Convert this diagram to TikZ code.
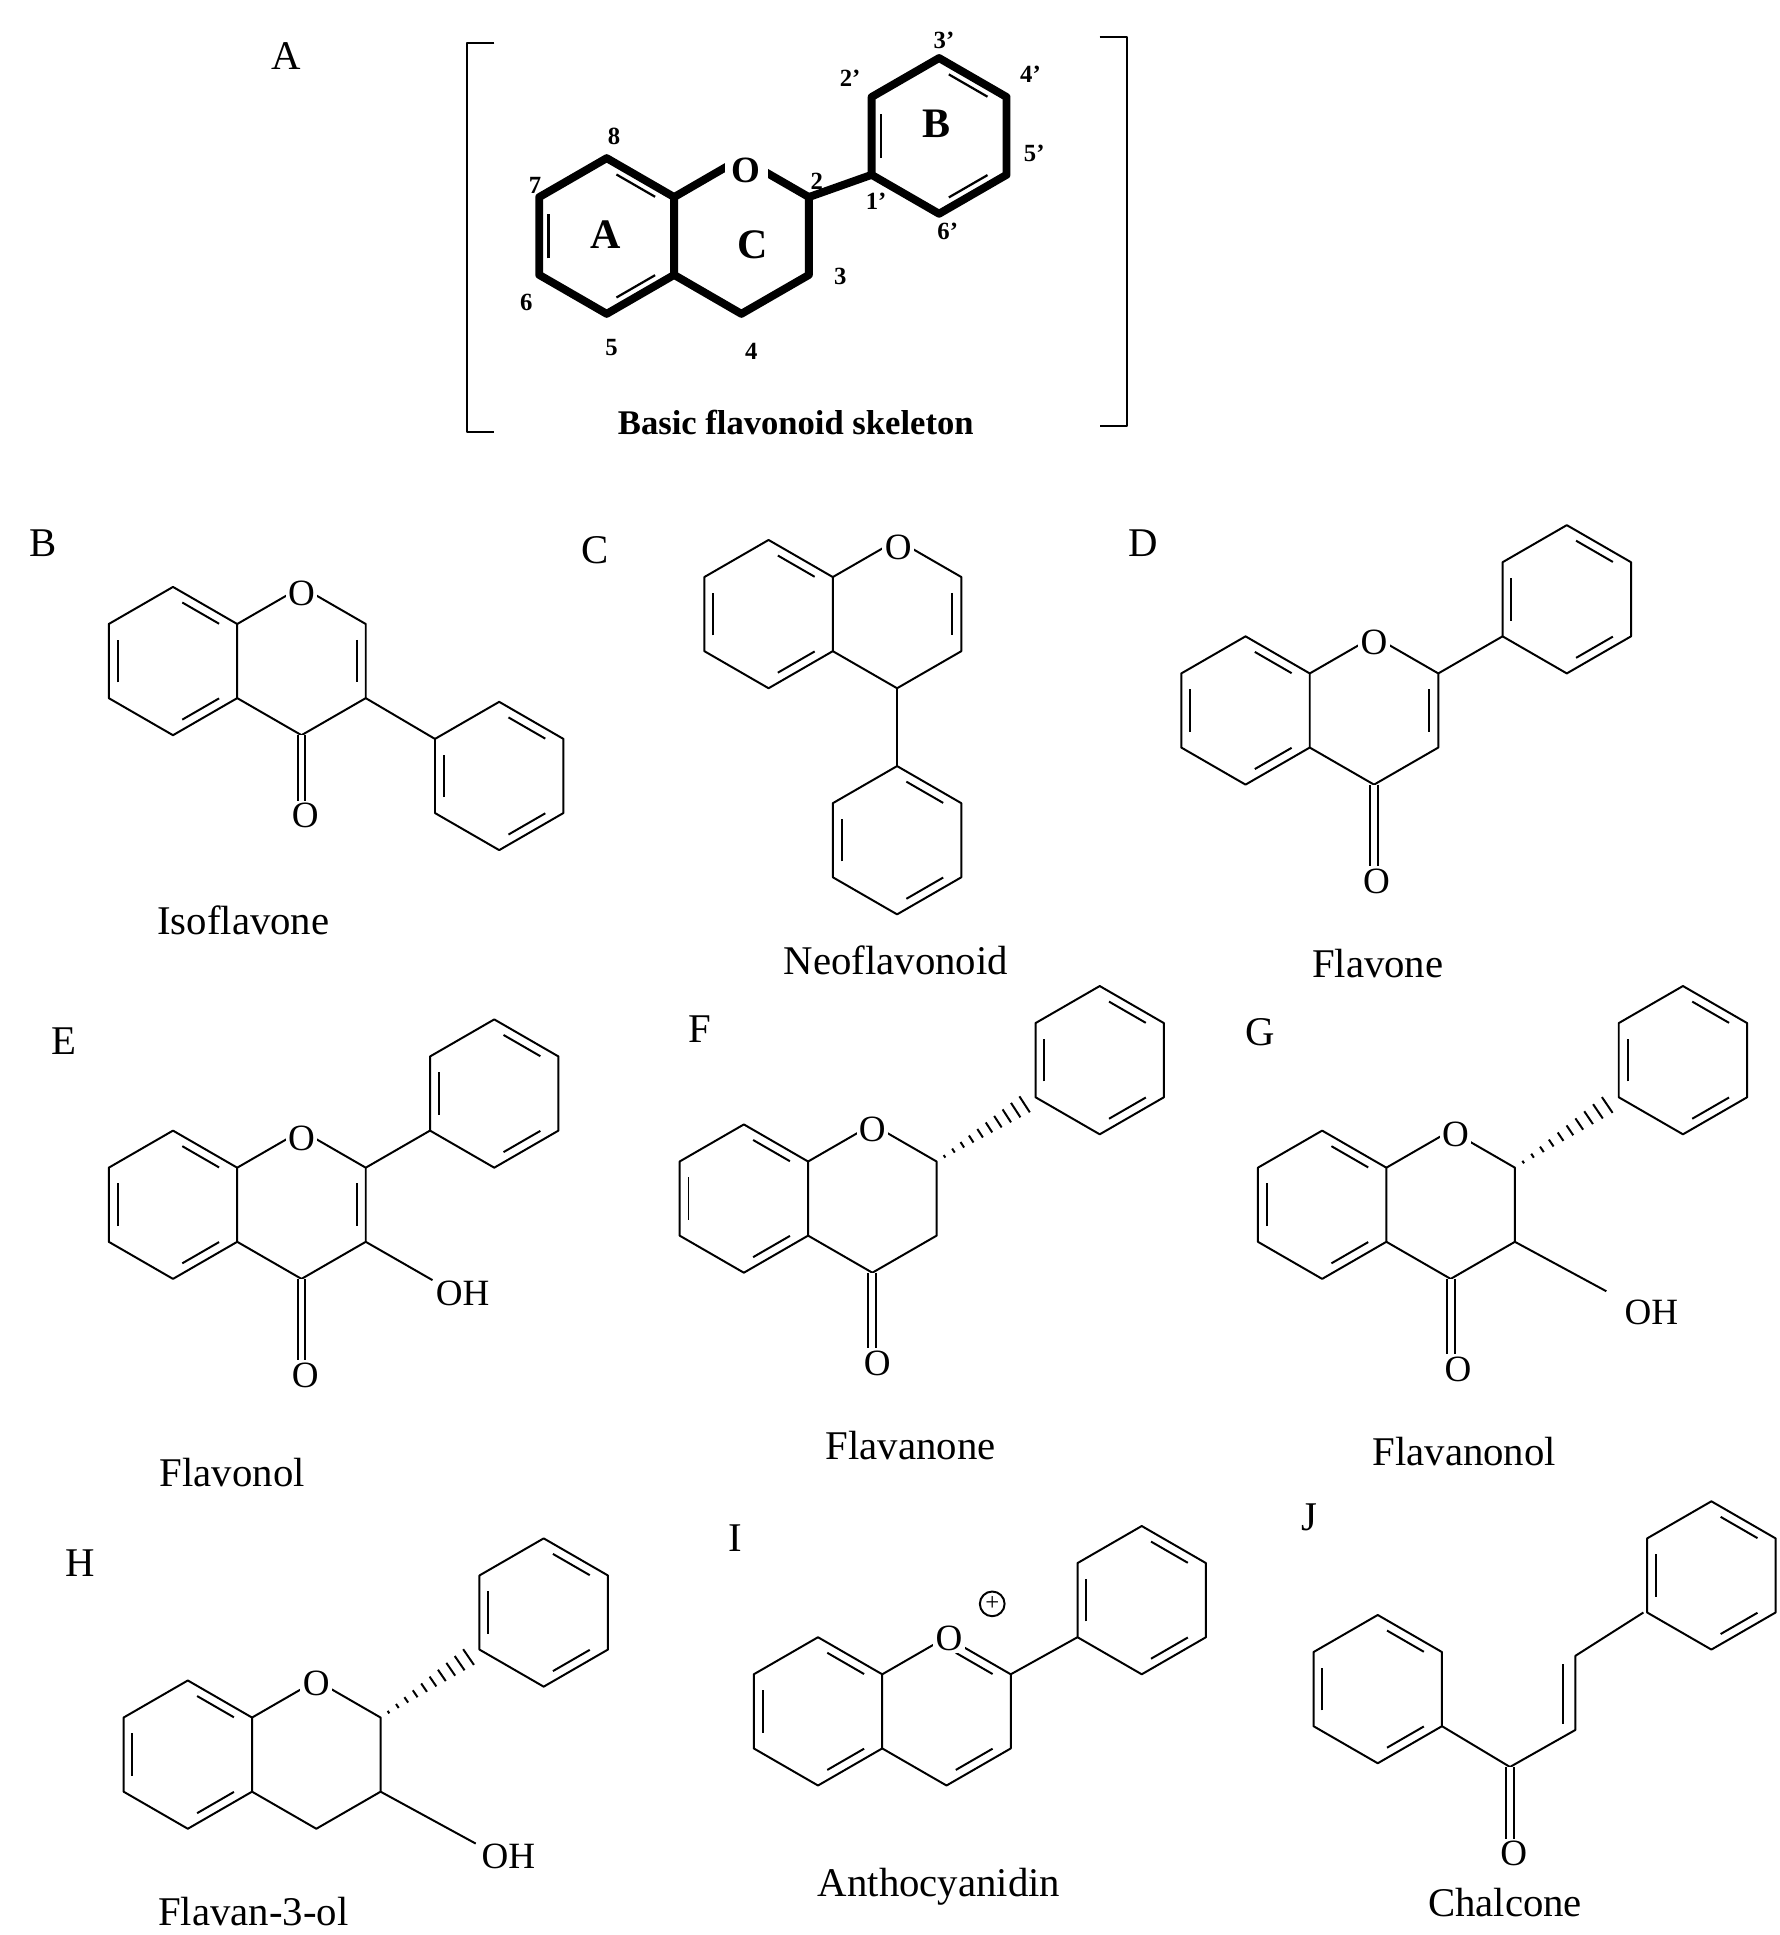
\documentclass[tikz,border=0pt]{standalone}
\usepackage{fontspec}
\setmainfont{Liberation Serif}
\usetikzlibrary{calc}
\newcommand\hexr[5]{% cx cy rot R doubles
\begin{scope}[shift={(#1,#2)}]
\draw (#3:#4) -- ({#3+60}:#4) -- ({#3+120}:#4) -- ({#3+180}:#4) -- ({#3+240}:#4) -- ({#3+300}:#4) -- cycle;
\foreach \k in {#5} {\draw[bond] ({#3+60*\k+9}:{0.8*#4}) -- ({#3+60*\k+51}:{0.8*#4});}
\end{scope}}
\newcommand\innr[4]{% cx cy rot edge
\begin{scope}[shift={(#1,#2)}]
\draw[bond] ({#3+60*#4+9}:48) -- ({#3+60*#4+51}:48);
\end{scope}}
\newcommand\hwedge[2]{%
\foreach \t in {0.08,0.17,...,0.95} {
\path coordinate (hwp) at ($#1!\t!#2$);
\draw[bond] ($(hwp)!{0.3pt+\t*4pt}!90:#2$) -- ($(hwp)!{0.3pt+\t*4pt}!-90:#2$);}}
\begin{document}
\begin{tikzpicture}[x=0.5pt,y=-0.5pt,line join=round,
  every path/.style={line width=0.8pt},
  bond/.style={line width=0.8pt},
  atom/.style={fill=white,inner sep=1pt,font=\fontsize{15}{15}\selectfont},
  lab/.style={font=\fontsize{16.5}{16.5}\selectfont},
  num/.style={font=\bfseries\fontsize{10}{10}\selectfont,inner sep=0pt},
  boldb/.style={line width=3.2pt}]
\useasboundingbox (0,0) rectangle (1440,1566);
% ---------- A
\node[lab] at (232,45) {A};
\draw (400,35) -- (378,35) -- (378,350) -- (400,350);
\draw (890,30) -- (912,30) -- (912,345) -- (890,345);
\begin{scope}[every path/.style={line width=3.2pt},bond/.style={line width=0.9pt}]
\hexr{491}{191}{-90}{63}{0,2,4}
\hexr{760}{110}{-90}{63}{0,2,4}
\draw (545.6,159.5) -- (600,128) -- (654.6,159.5) -- (654.6,222.5) -- (600,254) -- (545.6,222.5);
\draw (654.6,159.5) -- (705.4,141.5);
\end{scope}
\node[atom,inner sep=3pt,font=\bfseries\fontsize{15}{15}\selectfont] at (604,138) {O};
\node[font=\bfseries\fontsize{17}{17}\selectfont] at (490,190) {A};
\node[font=\bfseries\fontsize{17}{17}\selectfont] at (609,198) {C};
\node[font=\bfseries\fontsize{17}{17}\selectfont] at (758,100) {B};
\node[num] at (497,110) {8};
\node[num] at (433,150) {7};
\node[num] at (426,245) {6};
\node[num] at (495,281) {5};
\node[num] at (608,284) {4};
\node[num] at (680,224) {3};
\node[num] at (661,147) {2};
\node[num] at (709,163) {1'};
\node[num] at (688,63) {2'};
\node[num] at (764,33) {3'};
\node[num] at (834,60) {4'};
\node[num] at (837,124) {5'};
\node[num] at (767,187) {6'};
\node[font=\bfseries\fontsize{14}{14}\selectfont] at (644,342) {Basic flavonoid skeleton};
% ---------- B isoflavone
\node[lab] at (35,440) {B};
\hexr{140}{535}{-90}{60}{0,2,4}
\draw (192,505) -- (244,475) -- (296,505) -- (296,565) -- (244,595) -- (192,565);
\innr{244}{535}{-90}{1}
\draw[double,double distance=2.4pt] (244,595) -- (244,650);
\hexr{404}{628}{-90}{60}{0,2,4}
\draw (296,565) -- (352,598);
\node[atom] at (244,480) {O};
\node[atom] at (247,660) {O};
\node[lab] at (197,745) {Isoflavone};
% ---------- C neoflavonoid
\node[lab] at (482,445) {C};
\hexr{622}{497}{-90}{60}{0,2,4}
\draw (674,467) -- (726,437) -- (778,467) -- (778,527) -- (726,557) -- (674,527);
\innr{726}{497}{-90}{1}
\draw (726,557) -- (726,620);
\hexr{726}{680}{-90}{60}{0,2,4}
\node[atom] at (727,443) {O};
\node[lab] at (725,777) {Neoflavonoid};
% ---------- D flavone
\node[lab] at (925,440) {D};
\hexr{1008}{575}{-90}{60}{0,2,4}
\draw (1060,545) -- (1112,515) -- (1164,545) -- (1164,605) -- (1112,635) -- (1060,605);
\innr{1112}{575}{-90}{1}
\draw[double,double distance=2.4pt] (1112,635) -- (1112,705);
\draw (1164,545) -- (1216,515);
\hexr{1268}{485}{-90}{60}{0,2,4}
\node[atom] at (1112,520) {O};
\node[atom] at (1114,713) {O};
\node[lab] at (1115,780) {Flavone};
% ---------- E flavonol
\node[lab] at (52,843) {E};
\hexr{140}{975}{-90}{60}{0,2,4}
\draw (192,945) -- (244,915) -- (296,945) -- (296,1005) -- (244,1035) -- (192,1005);
\innr{244}{975}{-90}{1}
\draw[double,double distance=2.4pt] (244,1035) -- (244,1105);
\draw (296,1005) -- (350,1036);
\draw (296,945) -- (348,915);
\hexr{400}{885}{-90}{60}{0,2,4}
\node[atom] at (244,921) {O};
\node[atom] at (247,1113) {O};
\node[atom,anchor=west] at (350,1047) {OH};
\node[lab] at (188,1192) {Flavonol};
% ---------- F flavanone
\node[lab] at (566,833) {F};
\hexr{602}{970}{-90}{60}{0,2,4}
\draw (654,940) -- (706,910) -- (758,940) -- (758,1000) -- (706,1030) -- (654,1000);
\draw[double,double distance=2.4pt] (706,1030) -- (706,1095);
\hwedge{(758,940)}{(838,888)}
\hexr{890}{858}{-90}{60}{0,2,4}
\node[atom] at (706,914) {O};
\node[atom] at (710,1103) {O};
\node[lab] at (737,1170) {Flavanone};
% ---------- G flavanonol
\node[lab] at (1020,835) {G};
\hexr{1070}{975}{-90}{60}{0,2,4}
\draw (1122,945) -- (1174,915) -- (1226,945) -- (1226,1005) -- (1174,1035) -- (1122,1005);
\draw[double,double distance=2.4pt] (1174,1035) -- (1174,1100);
\draw (1226,1005) -- (1300,1045);
\hwedge{(1226,945)}{(1310,888)}
\hexr{1362}{858}{-90}{60}{0,2,4}
\node[atom] at (1178,918) {O};
\node[atom] at (1180,1108) {O};
\node[atom,anchor=west] at (1312,1062) {OH};
\node[lab] at (1185,1175) {Flavanonol};
% ---------- H flavan-3-ol
\node[lab] at (65,1265) {H};
\hexr{152}{1420}{-90}{60}{0,2,4}
\draw (204,1390) -- (256,1360) -- (308,1390) -- (308,1450) -- (256,1480) -- (204,1450);
\draw (308,1450) -- (385,1492);
\hwedge{(308,1390)}{(388,1335)}
\hexr{440}{1305}{-90}{60}{0,2,4}
\node[atom] at (256,1362) {O};
\node[atom,anchor=west] at (387,1502) {OH};
\node[lab] at (205,1547) {Flavan-3-ol};
% ---------- I anthocyanidin
\node[lab] at (595,1245) {I};
\hexr{662}{1385}{-90}{60}{0,2,4}
\draw (714,1355) -- (766,1325) -- (818,1355) -- (818,1415) -- (766,1445) -- (714,1415);
\innr{766}{1385}{-90}{0}
\innr{766}{1385}{-90}{2}
\draw (818,1355) -- (872,1325);
\hexr{924}{1295}{-90}{60}{0,2,4}
\node[atom] at (768,1326) {O};
\node[draw,circle,inner sep=0pt,minimum size=10pt,font=\fontsize{10}{10}\selectfont] at (803,1298) {+};
\node[lab] at (760,1527) {Anthocyanidin};
% ---------- J chalcone
\node[lab] at (1060,1228) {J};
\hexr{1115}{1367}{-90}{60}{0,2,4}
\draw (1167,1397) -- (1222,1430) -- (1275,1400) -- (1275,1340) -- (1330,1305);
\draw (1265,1347) -- (1265,1395);
\draw[double,double distance=2.4pt] (1222,1430) -- (1222,1492);
\hexr{1385}{1275}{-90}{60}{0,2,4}
\node[atom] at (1225,1500) {O};
\node[lab] at (1218,1540) {Chalcone};
\end{tikzpicture}
\end{document}
